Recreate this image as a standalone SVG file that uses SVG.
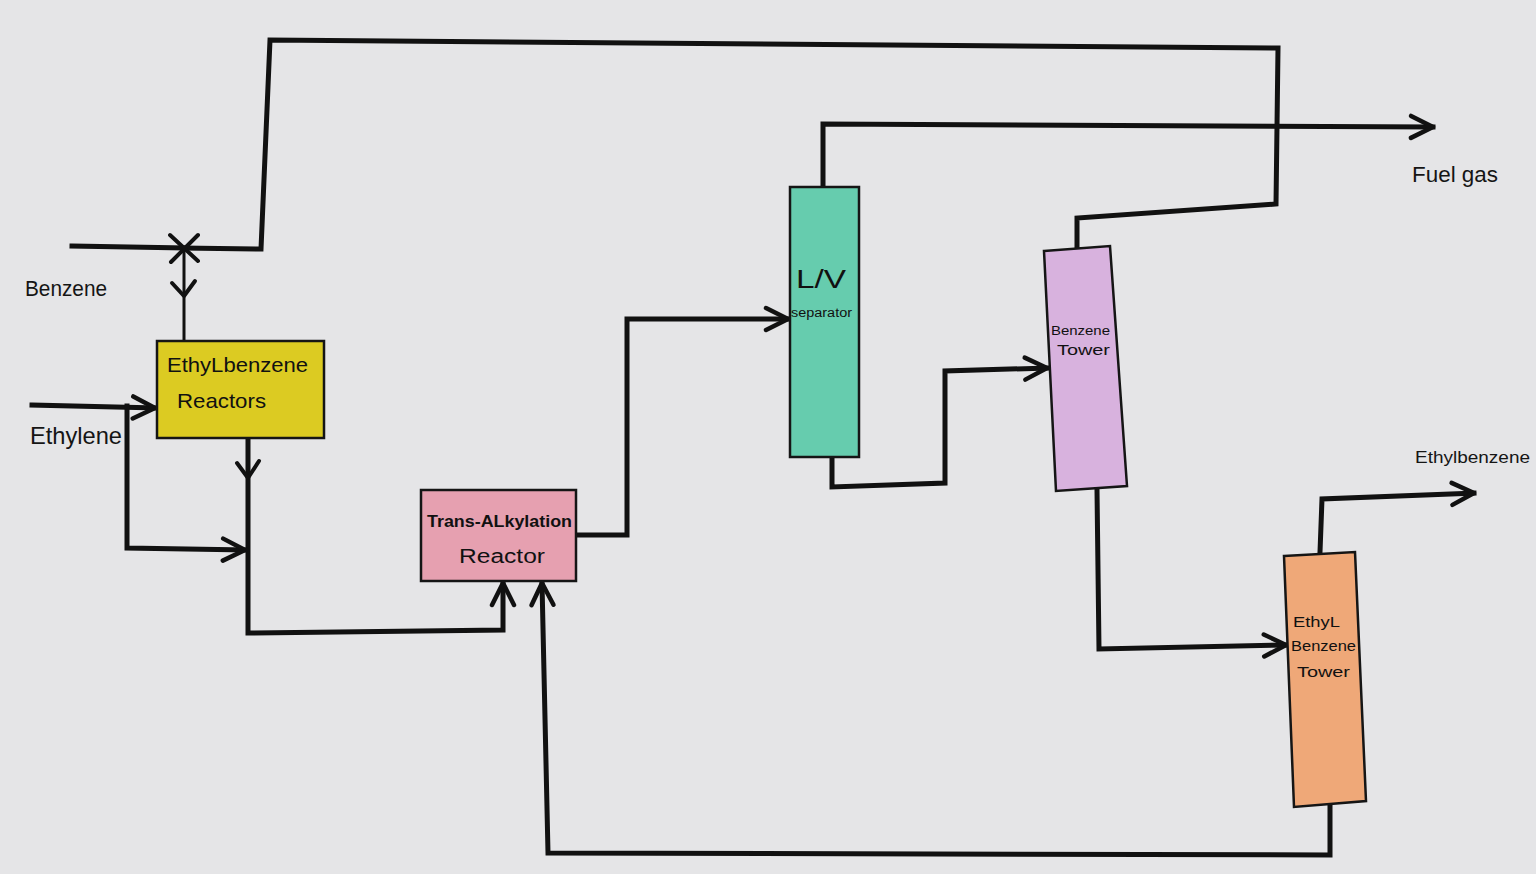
<svg xmlns="http://www.w3.org/2000/svg" width="1536" height="874" viewBox="0 0 1536 874">
<style>
.bg{fill:#e5e5e7}
.box{stroke:#151515;stroke-width:2.5}
.ln{fill:none;stroke:#111;stroke-width:5;stroke-linejoin:miter;stroke-linecap:square}
.thin{fill:none;stroke:#111;stroke-width:3}
.head{fill:none;stroke:#111;stroke-width:4;stroke-linecap:round;stroke-linejoin:round}
.t{font-family:"Liberation Sans",Arial,sans-serif;fill:#111}
.lbl{font-family:"Liberation Sans",Arial,sans-serif;fill:#151515}
</style>
<defs>
<marker id="arr" viewBox="0 0 30 30" refX="27" refY="15" markerWidth="30" markerHeight="30" markerUnits="userSpaceOnUse" orient="auto">
<path d="M5,4 L27,15 L5,26" fill="none" stroke="#111" stroke-width="4.5" stroke-linecap="round" stroke-linejoin="round"/>
</marker>
</defs>
<rect class="bg" x="0" y="0" width="1536" height="874"/>

<g id="connectors">
<!-- benzene feed to junction -->
<path class="ln" d="M72,246 L184,248"/>
<!-- benzene recycle from Benzene Tower top -->
<path class="ln" d="M1077,246 L1077,218 L1276,204 L1278,48 L270,40 L261,249 L184,248"/>
<!-- junction X -->
<path class="head" d="M170,235 L198,261 M198,235 L171,262"/>
<!-- junction down to EB reactors -->
<path class="thin" d="M184,248 L184,341"/>
<path class="head" d="M172,283 L184,296 L195,281"/>
<!-- ethylene feed -->
<path class="ln" d="M32,405 L155,408" marker-end="url(#arr)"/>
<path class="ln" d="M127,406 L127,548 L245,550" marker-end="url(#arr)"/>
<!-- EB reactor bottom to trans-alkylation -->
<path class="ln" d="M248,438 L248,633 L503,630 L503,583" marker-end="url(#arr)"/>
<path class="head" d="M237,463 L248,478 L259,461"/>
<!-- trans-alkylation to L/V separator -->
<path class="ln" d="M576,535 L627,535 L627,319 L788,319" marker-end="url(#arr)"/>
<!-- L/V top to fuel gas -->
<path class="ln" d="M823,186 L823,124 L1433,127" marker-end="url(#arr)"/>
<!-- L/V bottom to Benzene tower -->
<path class="ln" d="M832,457 L832,487 L945,483 L945,371 L1047,368" marker-end="url(#arr)"/>
<!-- Benzene tower bottom to EB tower -->
<path class="ln" d="M1097,490 L1099,649 L1286,645" marker-end="url(#arr)"/>
<!-- EB tower top to product -->
<path class="ln" d="M1320,552 L1322,499 L1474,493" marker-end="url(#arr)"/>
<!-- EB tower bottom recycle to trans-alkylation -->
<path class="ln" d="M1330,806 L1330,855 L548,853 L542,583" marker-end="url(#arr)"/>
</g>

<g id="node-eb-reactors">
<rect class="box" x="157" y="341" width="167" height="97" fill="#dccb22"/>
<text class="t" x="167" y="372" font-size="20" textLength="141" lengthAdjust="spacingAndGlyphs">EthyLbenzene</text>
<text class="t" x="177" y="408" font-size="21" textLength="89" lengthAdjust="spacingAndGlyphs">Reactors</text>
</g>

<g id="node-trans-alkylation">
<rect class="box" x="421" y="490" width="155" height="91" fill="#e6a0b0"/>
<text class="t" x="427" y="527" font-size="16" font-weight="bold" textLength="145" lengthAdjust="spacingAndGlyphs">Trans-ALkylation</text>
<text class="t" x="459" y="563" font-size="20" textLength="86" lengthAdjust="spacingAndGlyphs">Reactor</text>
</g>

<g id="node-lv-separator">
<rect class="box" x="790" y="187" width="69" height="270" fill="#66ccae"/>
<text class="t" x="796" y="288" font-size="26" textLength="50" lengthAdjust="spacingAndGlyphs">L/V</text>
<text class="t" x="791" y="317" font-size="12" textLength="61" lengthAdjust="spacingAndGlyphs">separator</text>
</g>

<g id="node-benzene-tower">
<polygon class="box" points="1044,251 1110,246 1127,486 1056,491" fill="#d8b2de"/>
<text class="t" x="1051" y="335" font-size="13" textLength="59" lengthAdjust="spacingAndGlyphs">Benzene</text>
<text class="t" x="1057" y="355" font-size="14" textLength="53" lengthAdjust="spacingAndGlyphs">Tower</text>
</g>

<g id="node-eb-tower">
<polygon class="box" points="1284,556 1355,552 1366,801 1294,807" fill="#efa878"/>
<text class="t" x="1293" y="627" font-size="14" textLength="47" lengthAdjust="spacingAndGlyphs">EthyL</text>
<text class="t" x="1291" y="651" font-size="14" textLength="65" lengthAdjust="spacingAndGlyphs">Benzene</text>
<text class="t" x="1297" y="677" font-size="14" textLength="53" lengthAdjust="spacingAndGlyphs">Tower</text>
</g>

<g id="labels">
<text class="lbl" x="25" y="296" font-size="22" textLength="82" lengthAdjust="spacingAndGlyphs">Benzene</text>
<text class="lbl" x="30" y="444" font-size="24" textLength="92" lengthAdjust="spacingAndGlyphs">Ethylene</text>
<text class="lbl" x="1412" y="182" font-size="22" textLength="86" lengthAdjust="spacingAndGlyphs">Fuel gas</text>
<text class="lbl" x="1415" y="463" font-size="17" textLength="115" lengthAdjust="spacingAndGlyphs">Ethylbenzene</text>
</g>
</svg>
